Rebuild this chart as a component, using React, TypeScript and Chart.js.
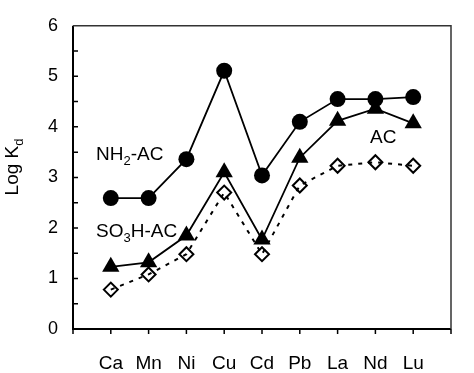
import React, { useEffect, useRef } from "react";
import { Chart, registerables } from "chart.js";

Chart.register(...registerables);

const categories = ["Ca", "Mn", "Ni", "Cu", "Cd", "Pb", "La", "Nd", "Lu"];
const xPositions = [1, 2, 3, 4, 5, 6, 7, 8, 9];
const nh2AC = [2.59, 2.59, 3.36, 5.11, 3.04, 4.1, 4.55, 4.55, 4.59];
const so3hAC = [1.23, 1.32, 1.85, 3.1, 1.77, 3.39, 4.12, 4.36, 4.07];
const acValues = [0.78, 1.08, 1.48, 2.7, 1.48, 2.84, 3.23, 3.3, 3.23];
const yTicks = [0, 1, 2, 3, 4, 5, 6];

const FONT = "'Liberation Sans', Arial, sans-serif";

function drawSubText(ctx: CanvasRenderingContext2D, x: number, y: number, parts: { t: string; sub?: boolean }[], size: number) {
  let cx = x;
  ctx.textBaseline = "middle";
  ctx.textAlign = "left";
  for (const p of parts) {
    const s = p.sub ? Math.round(size * 0.68) : size;
    ctx.font = `${s}px ${FONT}`;
    ctx.fillText(p.t, cx, p.sub ? y + size * 0.36 : y);
    cx += ctx.measureText(p.t).width;
  }
}

const framePlugin = {
  id: "frame",
  afterDatasetsDraw(chart: any) {
    const { ctx, chartArea: a, scales } = chart;
    const xs = scales.x;
    const ys = scales.y;
    ctx.save();
    ctx.strokeStyle = "#000";
    ctx.lineWidth = 2;
    ctx.beginPath();
    ctx.moveTo(a.left, a.top);
    ctx.lineTo(a.left, a.bottom);
    ctx.lineTo(a.right, a.bottom);
    ctx.stroke();
    ctx.lineWidth = 1.5;
    ctx.strokeStyle = "#333";
    ctx.beginPath();
    ctx.moveTo(a.left, a.top);
    ctx.lineTo(a.right, a.top);
    ctx.lineTo(a.right, a.bottom);
    ctx.stroke();
    ctx.strokeStyle = "#000";
    ctx.lineWidth = 1.5;
    ctx.beginPath();
    for (let v = 0.5; v < 6; v += 0.5) {
      const py = ys.getPixelForValue(v);
      ctx.moveTo(a.left, py);
      ctx.lineTo(a.left + 5, py);
    }
    for (let v = 0; v <= 10; v += 1) {
      const px = xs.getPixelForValue(v);
      ctx.moveTo(px, a.bottom);
      ctx.lineTo(px, a.bottom + 5);
    }
    ctx.stroke();

    ctx.fillStyle = "#000";
    drawSubText(ctx, 96, 155, [{ t: "NH" }, { t: "2", sub: true }, { t: "-AC" }], 19);
    drawSubText(ctx, 96, 232, [{ t: "SO" }, { t: "3", sub: true }, { t: "H-AC" }], 19);
    drawSubText(ctx, 370, 138, [{ t: "AC" }], 19);

    // y axis title
    ctx.save();
    ctx.translate(13, 167);
    ctx.rotate(-Math.PI / 2);
    ctx.font = `19px ${FONT}`;
    const w1 = ctx.measureText("Log K").width;
    ctx.font = `13px ${FONT}`;
    const w2 = ctx.measureText("d").width;
    drawSubText(ctx, -(w1 + w2) / 2, 0, [{ t: "Log K" }, { t: "d", sub: true }], 19);
    ctx.restore();
    ctx.restore();
  },
};

export default function App() {
  const ref = useRef<HTMLCanvasElement>(null);
  useEffect(() => {
    const mk = (vals: number[]) => vals.map((v, i) => ({ x: xPositions[i], y: v }));
    const chart = new Chart(ref.current!, {
      type: "line",
      data: {
        datasets: [
          {
            label: "SO3H-AC",
            data: mk(so3hAC),
            borderColor: "#000",
            backgroundColor: "#000",
            borderWidth: 1.8,
            pointStyle: "triangle",
            pointRadius: 10,
            pointBorderWidth: 0,
          },
          {
            label: "NH2-AC",
            data: mk(nh2AC),
            borderColor: "#000",
            backgroundColor: "#000",
            borderWidth: 1.8,
            pointStyle: "circle",
            pointRadius: 8,
            pointBorderWidth: 0,
          },
          {
            label: "AC",
            data: mk(acValues),
            borderColor: "#000",
            backgroundColor: "rgba(0,0,0,0)",
            borderWidth: 2,
            borderDash: [4, 6],
            pointStyle: "rectRot",
            pointRadius: 7,
            pointBorderWidth: 2,
            pointBorderColor: "#000",
            pointBackgroundColor: "rgba(0,0,0,0)",
          },
        ],
      },
      options: {
        animation: false,
        responsive: false,
        events: [],
        layout: { padding: { left: 8, top: 13, right: 5, bottom: 0 } },
        plugins: { legend: { display: false }, tooltip: { enabled: false } },
        scales: {
          x: {
            type: "linear",
            min: 0,
            max: 10,
            afterFit: (s: any) => { s.height = 44; },
            afterBuildTicks: (s: any) => { s.ticks = [0, 1, 2, 3, 4, 5, 6, 7, 8, 9, 10].map((v) => ({ value: v })); },
            grid: { display: false, drawTicks: false },
            border: { display: false },
            ticks: {
              padding: 23,
              color: "#000",
              font: { family: FONT, size: 19 },
              maxRotation: 0,
              autoSkip: false,
              callback: (v: any) => {
                const i = xPositions.indexOf(Number(v));
                return i >= 0 ? categories[i] : "";
              },
            },
          },
          y: {
            min: 0,
            max: 6,
            afterFit: (s: any) => { s.width = 65; },
            afterBuildTicks: (s: any) => { s.ticks = yTicks.map((v) => ({ value: v })); },
            grid: { display: false, drawTicks: false },
            border: { display: false },
            ticks: {
              padding: 15,
              color: "#000",
              font: { family: FONT, size: 18 },
              callback: (v: any) => String(v),
            },
          },
        },
      },
      plugins: [framePlugin],
    });
    return () => chart.destroy();
  }, []);
  return (
    <div style={{ position: "fixed", left: 0, top: 0, width: 474, height: 373, background: "#fff" }}>
      <canvas ref={ref} width={474} height={373} style={{ width: 474, height: 373 }} />
    </div>
  );
}
